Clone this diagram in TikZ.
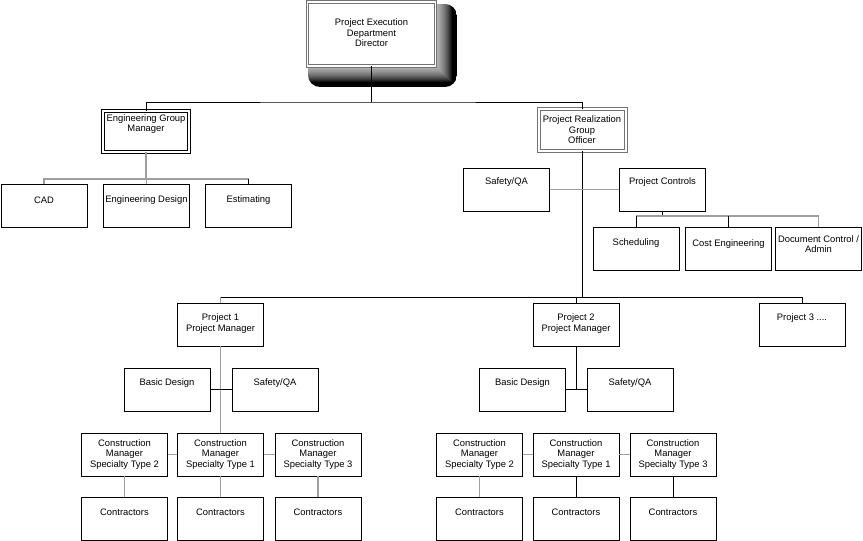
\documentclass[tikz,border=0pt]{standalone}
\usepackage{fontspec}
\setmainfont{Liberation Sans}
\begin{document}
\begin{tikzpicture}[x=1pt,y=-1pt,
 box/.style={draw=black, line width=0.8pt, fill=white, minimum width=86pt, minimum height=43pt, inner sep=0pt},
 dbox/.style={box, double=white, double distance=1.5pt},
 txt/.style={font=\fontsize{9.4}{10.6}\selectfont, align=center, inner sep=0pt},
 blk/.style={draw=black, line width=0.8pt},
 gry/.style={draw=black!38, line width=1.2pt},
]
\useasboundingbox (0,0) rectangle (863,541);
% shadow of the root box
\begin{scope}
  \path[clip, rounded corners=12pt] (308,4) rectangle (457,87);
  \fill[black] (308,4) rectangle (457,87);
  \foreach \k in {0,...,15}{
    \fill[white, fill opacity=0.08] (306-\k,1-\k) rectangle (437+\k,67+\k);
  }
\end{scope}
% boxes
\node[dbox, draw=black!55, minimum width=128pt, minimum height=64pt] (root) at (371.5,34) {};
\node[dbox, minimum width=86pt, minimum height=41pt] (eng) at (146,131.5) {};
\node[dbox, draw=black!55, minimum width=87pt, minimum height=42pt] (prg) at (582.5,130) {};
\node[box] (cad) at (44,206) {};
\node[box] (engd) at (146.5,206) {};
\node[box] (est) at (248.5,206) {};
\node[box] (saf) at (506.5,189.5) {};
\node[box] (pc) at (662.5,189.5) {};
\node[box] (sch) at (636,249) {};
\node[box] (cost) at (728.5,249) {};
\node[box] (doc) at (818.5,249) {};
\node[box] (p1) at (220.5,324.5) {};
\node[box] (p2) at (576,324.5) {};
\node[box] (p3) at (802,324.5) {};
\node[box] (bd1) at (167,389.5) {};
\node[box] (sq1) at (275,389.5) {};
\node[box] (bd2) at (522.5,389.5) {};
\node[box] (sq2) at (630,389.5) {};
\node[box] (cm2a) at (124.5,454.5) {};
\node[box] (cm1a) at (220.5,454.5) {};
\node[box] (cm3a) at (318,454.5) {};
\node[box] (cm2b) at (479.5,454.5) {};
\node[box] (cm1b) at (576,454.5) {};
\node[box] (cm3b) at (673,454.5) {};
\node[box] (ct2a) at (124.5,519) {};
\node[box] (ct1a) at (220.5,519) {};
\node[box] (ct3a) at (318,519) {};
\node[box] (ct2b) at (479.5,519) {};
\node[box] (ct1b) at (576,519) {};
\node[box] (ct3b) at (673,519) {};
% texts
\node[txt] (root-t) at (371.5,33) {Project Execution\\Department\\Director};
\node[txt] (eng-t) at (146,124) {Engineering Group\\Manager};
\node[txt] (prg-t) at (582,130) {Project Realization\\Group\\Officer};
\node[txt] (cad-t) at (44,200) {CAD};
\node[txt] (engd-t) at (146.5,200) {Engineering Design};
\node[txt] (est-t) at (248.5,200) {Estimating};
\node[txt] (saf-t) at (506.5,182) {Safety/QA};
\node[txt] (pc-t) at (662.5,182) {Project Controls};
\node[txt] (sch-t) at (636,243) {Scheduling};
\node[txt] (cost-t) at (728.5,244) {Cost Engineering};
\node[txt] (doc-t) at (818.5,244) {Document Control /\\Admin};
\node[txt] (p1-t) at (220.5,323.5) {Project 1\\Project Manager};
\node[txt] (p2-t) at (576,323.5) {Project 2\\Project Manager};
\node[txt] (p3-t) at (802,318) {Project 3 ....};
\node[txt] (bd1-t) at (167,383) {Basic Design};
\node[txt] (sq1-t) at (275,383) {Safety/QA};
\node[txt] (bd2-t) at (522.5,383) {Basic Design};
\node[txt] (sq2-t) at (630,383) {Safety/QA};
\foreach \n in {cm2a,cm2b}{\node[txt] (\n-t) at (\n.center) {Construction\\Manager\\Specialty Type 2};}
\foreach \n in {cm1a,cm1b}{\node[txt] (\n-t) at (\n.center) {Construction\\Manager\\Specialty Type 1};}
\foreach \n in {cm3a,cm3b}{\node[txt] (\n-t) at (\n.center) {Construction\\Manager\\Specialty Type 3};}
\foreach \n in {ct2a,ct1a,ct3a,ct2b,ct1b,ct3b}{\node[txt] (\n-t) at ([yshift=7pt]\n.center) {Contractors};}
% connectors
\coordinate (j0) at (371.5,102);
\coordinate (j1) at (146,179);
\coordinate (j2) at (582,297);
\coordinate (j3) at (662.5,216);
\draw[blk] (root.south) -- (j0);
\draw[blk] (eng.north) |- (j0) -| (prg.north);
\draw[gry] (eng.south) -- (j1);
\draw[gry] (cad.north) |- (est.north |- j1);
\draw[gry] (engd.north) -- (engd.north |- j1);
\draw[blk] (est.north) -- (est.north |- j1);
\draw[blk] (prg.south -| j2) -- (j2);
\draw[blk] (p1.north |- j2) -- (p3.north |- j2);
\draw[gry] (p1.north) -- (p1.north |- j2);
\draw[blk] (p2.north) -- (p2.north |- j2);
\draw[blk] (p3.north) -- (p3.north |- j2);
\draw[gry] (saf.east) -- (pc.west);
\draw[blk] (pc.south) -- (j3);
\draw[gry] (sch.north |- j3) -- (doc.north |- j3);
\draw[blk] (sch.north) -- (sch.north |- j3);
\draw[blk] (cost.north) -- (cost.north |- j3);
\draw[gry] (doc.north) -- (doc.north |- j3);
% project 1
\draw[gry] (p1.south) -- (cm1a.north);
\draw[blk] (bd1.east) -- (sq1.west);
\draw[gry] (cm2a.east) -- (cm1a.west);
\draw[gry] (cm1a.east) -- (cm3a.west);
\draw[gry] (cm2a.south) -- (ct2a.north);
\draw[gry] (cm1a.south) -- (ct1a.north);
\draw[gry] (cm3a.south) -- (ct3a.north);
% project 2
\draw[blk] (p2.south) -- (p2.south |- bd2.east);
\draw[blk] (bd2.east) -- (sq2.west);
\draw[gry] (cm2b.east) -- (cm1b.west);
\draw[gry] (cm1b.east) -- (cm3b.west);
\draw[gry] (cm2b.south) -- (ct2b.north);
\draw[blk] (cm1b.south) -- (ct1b.north);
\draw[blk] (cm3b.south) -- (ct3b.north);
\end{tikzpicture}
\end{document}
